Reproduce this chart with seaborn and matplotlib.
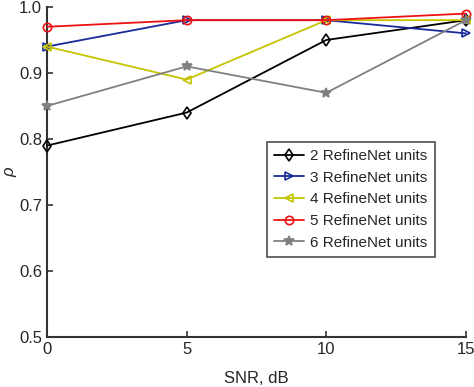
import matplotlib
matplotlib.use('Agg')

import matplotlib.pyplot as plt
import seaborn as sns
import pandas as pd

snr = [0, 5, 10, 15]
units2 = [0.79, 0.84, 0.95, 0.98]
units3 = [0.94, 0.98, 0.98, 0.96]
units4 = [0.94, 0.89, 0.98, 0.98]
units5 = [0.97, 0.98, 0.98, 0.99]
units6 = [0.85, 0.91, 0.87, 0.98]
labels = ["2 RefineNet units", "3 RefineNet units", "4 RefineNet units",
          "5 RefineNet units", "6 RefineNet units"]

sns.set_style("ticks")
plt.rcParams['font.family'] = ['Liberation Sans', 'DejaVu Sans']

rows = []
for lab, vals in zip(labels, [units2, units3, units4, units5, units6]):
    for x, v in zip(snr, vals):
        rows.append({"SNR": x, "rho": v, "series": lab})
df = pd.DataFrame(rows)

colors = ["#000000", "#1a2a9a", "#c4c400", "#ee1111", "#808080"]
markers = ["d", ">", "<", "o", "*"]

fig = plt.figure(figsize=(4.74, 3.87), dpi=100)
ax = fig.add_axes([0.099, 0.129, 0.884, 0.853])

for lab, col, mk in zip(labels, colors, markers):
    sub = df[df["series"] == lab]
    sns.lineplot(data=sub, x="SNR", y="rho", ax=ax, color=col, marker=mk,
                 markersize=6 if mk != "*" else 7.5,
                 markerfacecolor="none" if mk != "*" else col,
                 markeredgecolor=col, markeredgewidth=1.2,
                 linewidth=1.3, label=lab)

ax.set_xlim(0, 15)
ax.set_ylim(0.5, 1.0)
ax.set_xticks([0, 5, 10, 15])
ax.set_yticks([0.5, 0.6, 0.7, 0.8, 0.9, 1.0])
ax.set_yticklabels(["0.5", "0.6", "0.7", "0.8", "0.9", "1.0"])
ax.tick_params(direction="in", length=4, labelsize=12, color="#333333", width=1.2)
ax.set_xlabel("SNR, dB", fontsize=12, labelpad=10)
ax.set_ylabel("ρ", fontsize=12, fontstyle="italic")
ax.yaxis.set_label_coords(-0.07, 0.5)
for s in ["top", "right"]:
    ax.spines[s].set_visible(False)
for s in ["left", "bottom"]:
    ax.spines[s].set_linewidth(1.5)
    ax.spines[s].set_color("#333333")
    ax.spines[s].set_zorder(0)
for line in ax.lines:
    line.set_clip_on(False)

leg = ax.legend(loc="upper left", bbox_to_anchor=(0.525, 0.59), fontsize=11,
                frameon=True, fancybox=False, edgecolor="#222222",
                handlelength=2.0, borderpad=0.45, labelspacing=0.5,
                handletextpad=0.4, borderaxespad=0)
leg.get_frame().set_linewidth(1.2)

fig.savefig("out.png", dpi=100)
